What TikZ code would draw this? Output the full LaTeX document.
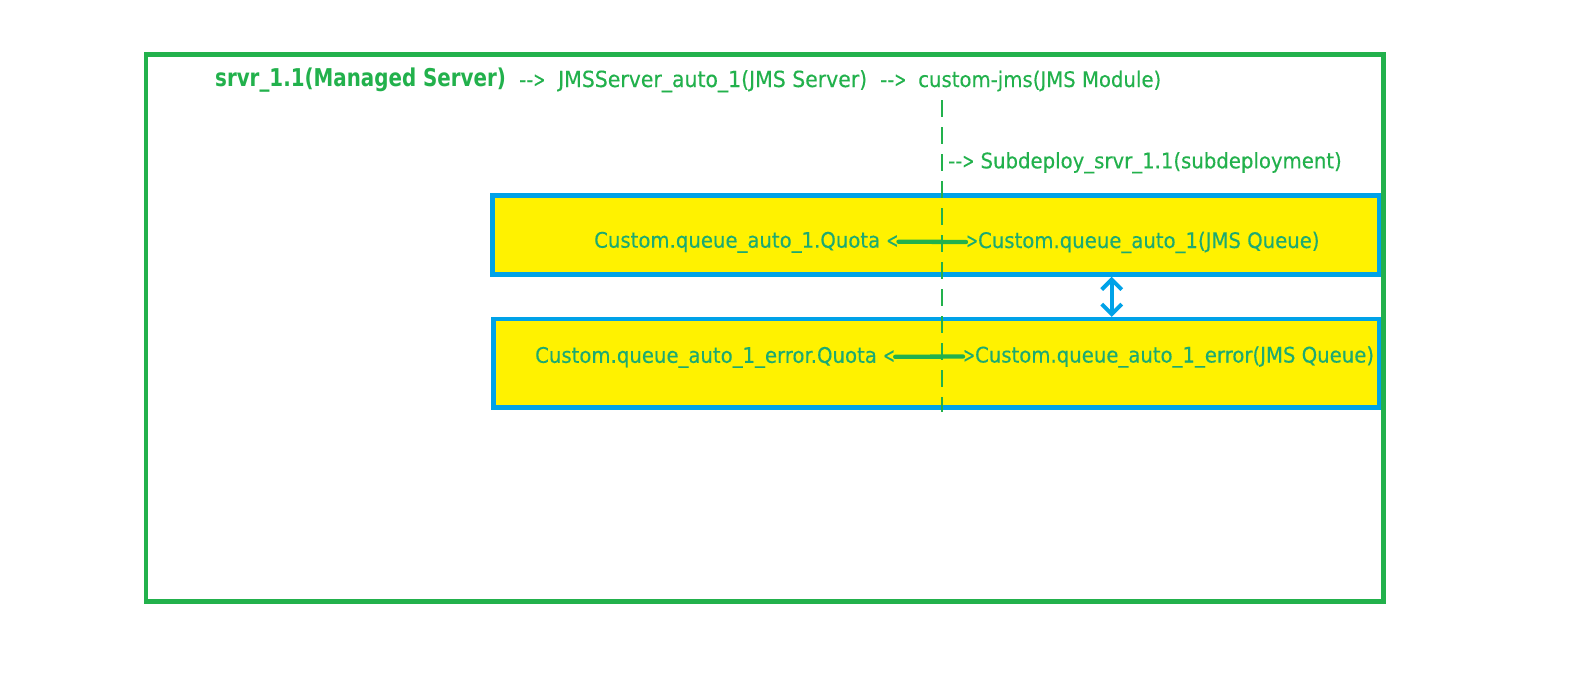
\documentclass[tikz,border=0pt]{standalone}
\usepackage{fontspec}
\usepackage{graphicx}
\setmainfont{DejaVu Sans}[FakeStretch=0.92, FakeBold=0.3]
\newfontfamily\titlefont{DejaVu Sans}[FakeStretch=0.81]
\usetikzlibrary{arrows.meta}
\definecolor{pgreen}{HTML}{22B14C}
\definecolor{pblue}{HTML}{00A2E8}
\definecolor{pyellow}{HTML}{FFF200}
\definecolor{boxtext}{HTML}{1CAA72}
\newcommand\narrowgt{\scalebox{0.72}[1]{>}}
\newcommand\narrowlt{\scalebox{0.72}[1]{<}}
\tikzset{
  outerbox/.style={draw=pgreen, line width=4.7pt, rectangle, inner sep=0pt},
  queuebox/.style={draw=pblue, fill=pyellow, line width=4.5pt, rectangle, inner sep=0pt},
  lbl/.style={text=pgreen, inner sep=0pt, anchor=base west, font=\fontsize{21.4}{24}\selectfont},
  qlbl/.style={lbl, text=boxtext},
  titlelbl/.style={lbl, font=\titlefont\bfseries\fontsize{24.5}{27}\selectfont},
  quotaline/.style={draw=pgreen, line width=4.3pt, line cap=round},
  subline/.style={draw=pgreen, line width=2.2pt, dash pattern=on 17pt off 10pt},
  linkarrow/.style={draw=pblue, line width=4pt, {Straight Barb[length=10pt,width=20pt]}-{Straight Barb[length=10pt,width=20pt]}},
}
\begin{document}
\begin{tikzpicture}[x=1pt,y=-1pt]
\useasboundingbox[fill=white] (0,0) rectangle (1594,693);
% outer server frame
\node[outerbox, minimum width=1237.5pt, minimum height=546.5pt] (server) at (764.75,328.1) {};
% queue boxes
\node[queuebox, minimum width=886.3pt, minimum height=79pt] (box1) at (935.65,235) {};
\node[queuebox, minimum width=885.3pt, minimum height=88.5pt] (box2) at (936.15,363.45) {};
% header line
\node[titlelbl] (srv) at (215,86.7) {srvr\_1.1(Managed Server)};
\node[lbl] (a1) at (519,87) {-{}-\narrowgt};
\node[lbl, font=\fontsize{22.2}{24}\selectfont] (jms) at (558,87) {JMSServer\_auto\_1(JMS Server)};
\node[lbl] (a2) at (880,87) {-{}-\narrowgt};
\node[lbl] (mod) at (918,87) {custom-jms(JMS Module)};
% subdeployment branch
\coordinate (dtop) at (941.7,100);
\coordinate (dbot) at (941.7,411.7);
\draw[subline] (dtop) -- (dbot);
\node[lbl] (sub) at (948,168.3) {-{}-\narrowgt{} Subdeploy\_srvr\_1.1(subdeployment)};
% queue 1
\node[qlbl] (q1) at (594,247.7) {Custom.queue\_auto\_1.Quota \narrowlt};
\node[qlbl] (q1t) at (966,248) {\narrowgt Custom.queue\_auto\_1(JMS Queue)};
\draw[quotaline] ([yshift=6pt]q1.base east) -- ([yshift=6pt]q1t.base west);
% queue 2
\node[qlbl] (q2) at (535,362.8) {Custom.queue\_auto\_1\_error.Quota \narrowlt};
\node[qlbl] (q2t) at (963,362.5) {\narrowgt Custom.queue\_auto\_1\_error(JMS Queue)};
\draw[quotaline] ([yshift=6pt]q2.base east) -- ([yshift=6pt]q2t.base west);
% link between queues
\coordinate (ax) at (1111.7,0);
\draw[linkarrow] (box1.south -| ax) -- (box2.north -| ax);
\end{tikzpicture}
\end{document}
